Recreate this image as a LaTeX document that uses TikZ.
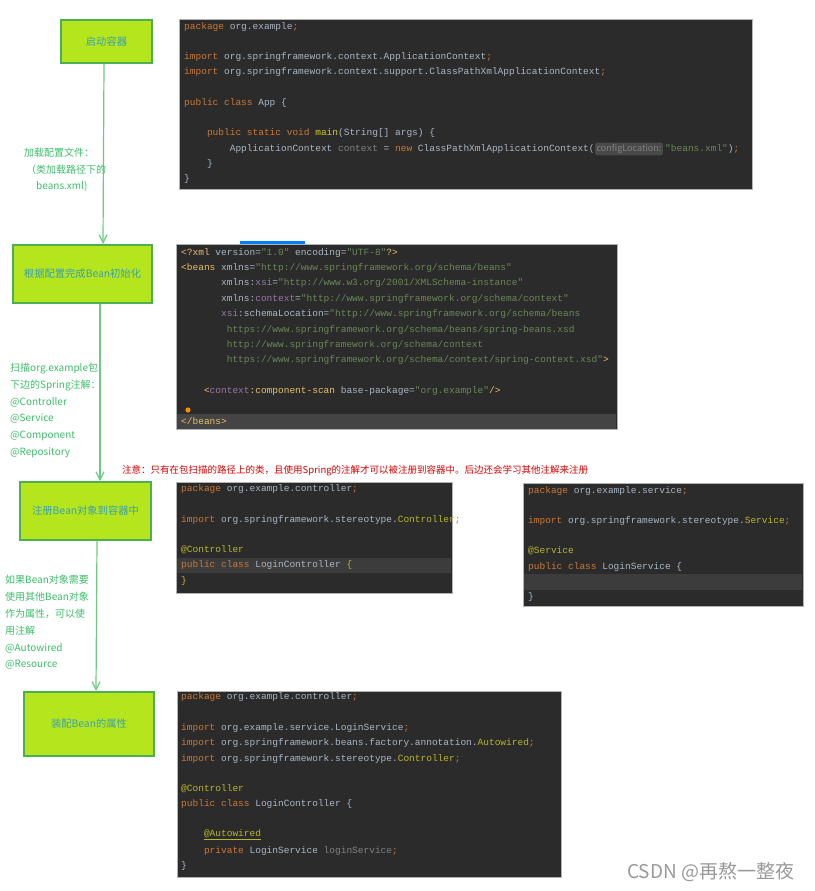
\documentclass[tikz,border=0pt]{standalone}
\usepackage{fontspec}
\setmainfont{Noto Sans CJK SC}
\newfontfamily\code{Liberation Mono}
\newfontfamily\cjk{Noto Sans CJK SC}
\definecolor{kw}{HTML}{CC7832}
\definecolor{plain}{HTML}{A9B7C6}
\definecolor{strc}{HTML}{6A8759}
\definecolor{ann}{HTML}{BBB529}
\definecolor{grayc}{HTML}{808080}
\definecolor{purp}{HTML}{9876AA}
\definecolor{tagc}{HTML}{E8BF6A}
\definecolor{panel}{HTML}{2B2B2B}
\definecolor{boxfill}{HTML}{B5E61D}
\definecolor{boxline}{HTML}{4CB050}
\definecolor{boxtext}{HTML}{3A9FB0}
\definecolor{labc}{HTML}{3DBE6A}
\definecolor{arrc}{HTML}{6CCB80}
\newcommand\cK[1]{\textcolor{kw}{#1}}
\newcommand\cS[1]{\textcolor{strc}{#1}}
\newcommand\cA[1]{\textcolor{ann}{#1}}
\newcommand\cG[1]{\textcolor{grayc}{#1}}
\newcommand\cV[1]{\textcolor{purp}{#1}}
\newcommand\cT[1]{\textcolor{tagc}{#1}}
\begin{document}
\begin{tikzpicture}[x=1pt,y=-1pt,
  stepbox/.style={draw=boxline,line width=1.2pt,fill=boxfill,text=boxtext,font=\cjk\fontsize{10.3}{12}\selectfont},
  cl/.style={anchor=west,inner sep=0,font=\code\fontsize{9.5}{10}\selectfont,text=plain},
  lab/.style={anchor=west,inner sep=0,text=labc,font=\cjk\fontsize{10}{11}\selectfont},
  panelbox/.style={fill=panel,draw=gray!60,line width=0.6pt},
  flow/.style={draw=arrc,line width=1.2pt,-{Straight Barb[length=8pt,width=8pt]}}]
\usetikzlibrary{arrows.meta}
\useasboundingbox[fill=white] (0,0) rectangle (814,891);
% boxes
\node[stepbox,minimum width=91pt,minimum height=43pt] (b1) at (106.5,41.5) {启动容器};
\node[stepbox,minimum width=139pt,minimum height=58pt] (b2) at (82.5,274) {根据配置完成Bean初始化};
\node[stepbox,minimum width=131pt,minimum height=58pt] (b3) at (85.5,511) {注册Bean对象到容器中};
\node[stepbox,minimum width=130pt,minimum height=64pt] (b4) at (89,724) {装配Bean的属性};
\coordinate (a1) at (104,63.6); \coordinate (a2) at (103,244);
\coordinate (c1) at (100,303.6); \coordinate (c2) at (100,481);
\coordinate (d1) at (97,540.6); \coordinate (d2) at (96,691);
\draw[flow] (a1) -- (a2);
\draw[flow] (c1) -- (c2);
\draw[flow] (d1) -- (d2);
% labels
\node[lab] (l1) at (24,153) {加载配置文件：};
\node[lab] (l2) at (26,170) {（类加载路径下的};
\node[lab] (l3) at (36,186) {beans.xml)};
\foreach \t [count=\i] in {扫描org.example包,下边的Spring注解：,@Controller,@Service,@Component,@Repository}
  \node[lab] (s\i) at (10,351.5+16.8*\i) {\t};
\foreach \t [count=\i] in {如果Bean对象需要,使用其他Bean对象,作为属性，可以使,用注解,@Autowired,@Resource}
  \node[lab] (w\i) at (5,563+17*\i) {\t};
% panel 1
\node[panelbox,anchor=north west,minimum width=573pt,minimum height=170pt,inner sep=0] (p1) at (179,19) {};
\node[cl] (p1a) at (184,27) {\cK{package} org.example\cK{;}};
\node[cl] (p1b) at (184,57) {\cK{import} org.springframework.context.ApplicationContext\cK{;}};
\node[cl] (p1c) at (184,72) {\cK{import} org.springframework.context.support.ClassPathXmlApplicationContext\cK{;}};
\node[cl] (p1d) at (184,103) {\cK{public class} App \{};
\node[cl] (p1e) at (184,133) {\ \ \ \ \cK{public static void} \textcolor{ann!70!yellow}{main}(String[] args) \{};
\node[cl] (p1f) at (184,149) {\ \ \ \ \ \ \ \ ApplicationContext \cG{context} = \cK{new} ClassPathXmlApplicationContext(};
\node[anchor=west,fill=gray!35!panel,rounded corners=2pt,inner sep=1.5pt,text=grayc,font=\cjk\fontsize{9}{10}\selectfont] (hint) at (p1f.east) {configLocation:};
\node[cl,anchor=west] (p1g) at ([xshift=2pt]hint.east) {\cS{"beans.xml"})\cK{;}};
\node[cl] (p1h) at (184,164) {\ \ \ \ \}};
\node[cl] (p1i) at (184,179) {\}};
% panel 2
\fill[blue!50!cyan] (240,241) rectangle (305,244);
\node[panelbox,anchor=north west,minimum width=441pt,minimum height=185pt,inner sep=0] (p2) at (176,244) {};
\fill[gray!30!panel] (177,414) rectangle (616,428.5);
\node[cl] (x1) at (181,253) {\cT{<?xml} version=\cS{"1.0"} encoding=\cS{"UTF-8"}\cT{?>}};
\node[cl] (x2) at (181,268) {\cT{<beans} xmlns=\cS{"http://www.springframework.org/schema/beans"}};
\node[cl] (x3) at (181,283) {\ \ \ \ \ \ \ xmlns:\cV{xsi}=\cS{"http://www.w3.org/2001/XMLSchema-instance"}};
\node[cl] (x4) at (181,299) {\ \ \ \ \ \ \ xmlns:\cV{context}=\cS{"http://www.springframework.org/schema/context"}};
\node[cl] (x5) at (181,314) {\ \ \ \ \ \ \ \cV{xsi}:schemaLocation=\cS{"http://www.springframework.org/schema/beans}};
\node[cl] (x6) at (181,330) {\ \ \ \ \ \ \ \ \cS{https://www.springframework.org/schema/beans/spring-beans.xsd}};
\node[cl] (x7) at (181,345) {\ \ \ \ \ \ \ \ \cS{http://www.springframework.org/schema/context}};
\node[cl] (x8) at (181,360) {\ \ \ \ \ \ \ \ \cS{https://www.springframework.org/schema/context/spring-context.xsd"}\cT{>}};
\node[cl] (x9) at (181,391) {\ \ \ \ \cT{<}\cV{context}\cT{:component-scan} base-package=\cS{"org.example"}\cT{/>}};
\fill[orange!90!yellow] (188,410) circle (2.6pt);
\node[cl] (x10) at (181,421) {\cT{</beans>}};
% red note
\node[anchor=west,inner sep=0,text=red!85!black,font=\cjk\fontsize{9.5}{11}\selectfont] (note) at (122,471) {注意：只有在包扫描的路径上的类，且使用Spring的注解才可以被注册到容器中。后边还会学习其他注解来注册};
% panel 3
\node[panelbox,anchor=north west,minimum width=276pt,minimum height=111pt,inner sep=0] (p3) at (176,482) {};
\fill[gray!20!panel] (177,558) rectangle (451,573);
\node[cl] (q1) at (181,489) {\cK{package} org.example.controller\cK{;}};
\node[cl] (q2) at (181,520) {\cK{import} org.springframework.stereotype.\cA{Controller}\cK{;}};
\node[cl] (q3) at (181,550) {\cA{@Controller}};
\node[cl] (q4) at (181,565) {\cK{public class} LoginController \cA{\{}};
\node[cl] (q5) at (181,581) {\cA{\}}};
% panel 4
\node[panelbox,anchor=north west,minimum width=280pt,minimum height=123pt,inner sep=0] (p4) at (523,483) {};
\fill[gray!20!panel] (524,574) rectangle (802,590);
\node[cl] (r1) at (528,491) {\cK{package} org.example.service\cK{;}};
\node[cl] (r2) at (528,521) {\cK{import} org.springframework.stereotype.\cA{Service}\cK{;}};
\node[cl] (r3) at (528,551) {\cA{@Service}};
\node[cl] (r4) at (528,567) {\cK{public class} LoginService \{};
\node[cl] (r5) at (528,597) {\}};
% panel 5
\node[panelbox,anchor=north west,minimum width=384pt,minimum height=186pt,inner sep=0] (p5) at (177,691) {};
\node[cl] (t1) at (181,697) {\cK{package} org.example.controller\cK{;}};
\node[cl] (t2) at (181,728) {\cK{import} org.example.service.LoginService\cK{;}};
\node[cl] (t3) at (181,743) {\cK{import} org.springframework.beans.factory.annotation.\cA{Autowired}\cK{;}};
\node[cl] (t4) at (181,759) {\cK{import} org.springframework.stereotype.\cA{Controller}\cK{;}};
\node[cl] (t5) at (181,789) {\cA{@Controller}};
\node[cl] (t6) at (181,804) {\cK{public class} LoginController \{};
\node[cl] (t7) at (181,835) {\ \ \ \ \cA{\underline{@Autowired}}};
\node[cl] (t8) at (181,851) {\ \ \ \ \cK{private} LoginService \cG{loginService}\cK{;}};
\node[cl] (t9) at (181,866) {\}};
% watermark
\node[anchor=west,inner sep=0,text=gray!80,font=\cjk\fontsize{19}{20}\selectfont] (wm) at (627,872) {CSDN @再熬一整夜};
\end{tikzpicture}
\end{document}
